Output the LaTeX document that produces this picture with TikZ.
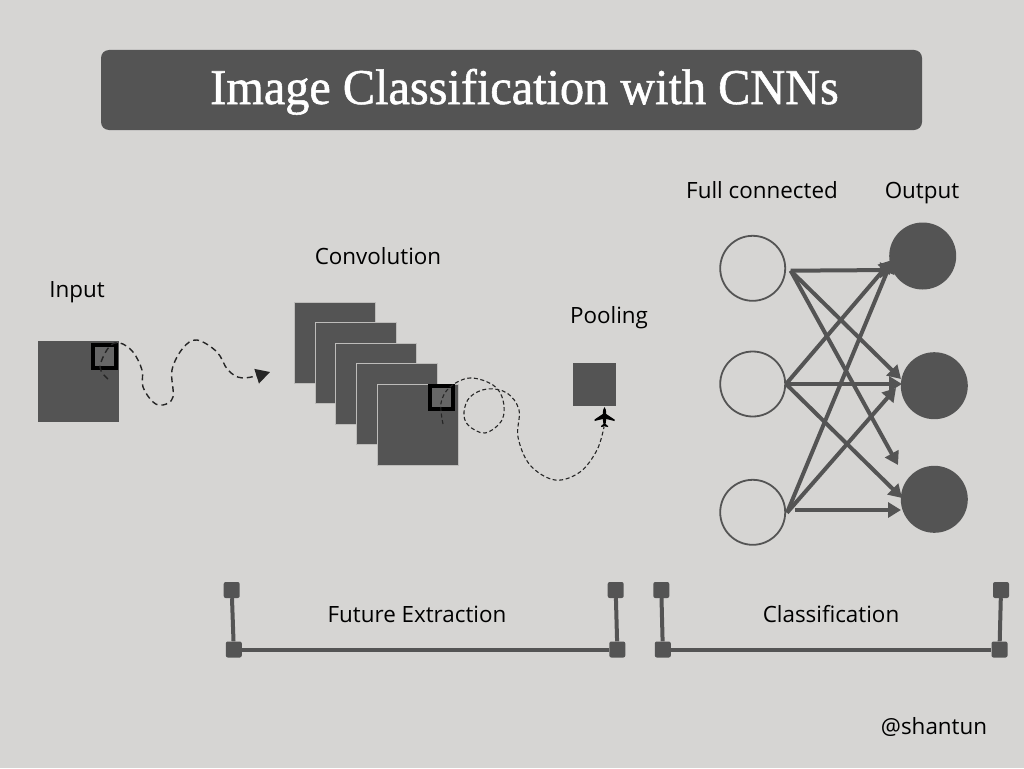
\documentclass[tikz,border=0pt]{standalone}
\usepackage{fontspec}
\setmainfont{Open Sans}
\newfontfamily\titlefont[FakeBold=1.1, FakeStretch=0.965]{Liberation Serif}
\usepackage{tikz}
\usetikzlibrary{arrows.meta,positioning,calc}
\definecolor{pagebg}{HTML}{D6D5D3}
\definecolor{cnndark}{HTML}{545454}
\definecolor{cnnmid}{HTML}{666666}
\definecolor{cnnedge}{HTML}{BDBCBA}

\begin{document}
\begin{tikzpicture}[x=1pt, y=-1pt, >={Triangle[length=13pt, width=15pt]},
  font=\fontsize{22.4}{26}\selectfont,
  sheet/.style={fill=cnndark, draw=cnnedge, line width=0.7pt, inner sep=0pt, minimum size=81pt},
  kernel/.style={fill=cnnmid, draw=black, line width=4pt, inner sep=0pt, minimum size=23pt},
  pin/.style={fill=cnndark, rounded corners=2pt, inner sep=0pt, minimum size=16pt},
  inunit/.style={circle, draw=cnndark, line width=1.8pt, inner sep=0pt, minimum size=65pt},
  outunit/.style={circle, fill=cnndark, inner sep=0pt, minimum size=67pt},
  link/.style={->, draw=cnndark, line width=4pt},
  bar/.style={draw=cnndark, line width=4pt},
  lbl/.style={anchor=base},
  trail/.style={draw=black!85, line width=1.4pt, dash pattern=on 6pt off 4pt}]
\useasboundingbox[fill=pagebg] (0,0) rectangle (1024,768);

\node[fill=cnndark, rounded corners=8pt, minimum width=821pt, minimum height=80pt, inner sep=0pt]
  (banner) at (511.5,90) {};
\node[lbl, text=white, font=\titlefont\fontsize{50}{60}\selectfont] (title) at (524.5,104)
  {Image Classification with CNNs};

% labels
\node[lbl] (lblin) at (77,297) {Input};
\node[lbl] (lblconv) at (378,264) {Convolution};
\node[lbl] (lblpool) at (609,323) {Pooling};
\node[lbl] (lblfull) at (762,198.5) {Full connected};
\node[lbl] (lblout) at (922,198.5) {Output};
\node[lbl] (lblfeat) at (417,622) {Future Extraction};
\node[lbl] (lblclass) at (831,622) {Classification};
\node[lbl] (lblhandle) at (934,734) {@shantun};

% input and its filter
\node[sheet, draw=none] (input) at (78.5,381.5) {};
\node[kernel] (kin) at (104.5,356) {};
\draw[trail, -{Triangle[length=14pt, width=15pt]}] plot[smooth, tension=0.6] coordinates
  {(108,379) (100,367) (109,347) (120,343) (133,352) (142,370) (143,387) (153,402)
   (163,405) (173,397) (172,370) (183,348) (197,340) (217,352) (228,370) (243,378) (270,372)};

% convolution stack
\foreach \i/\cx/\cy in {1/335/342.5, 2/355.5/362.5, 3/375.5/383.5, 4/396.5/403.5, 5/417.5/424.5}
  \node[sheet] (conv\i) at (\cx,\cy) {};
\node[kernel] (kconv) at (441.5,397) {};
\draw[trail, dash pattern=on 4pt off 2.6pt, line width=1.1pt] plot[smooth, tension=0.6] coordinates
  {(443,424) (441,403) (450,387) (470,378) (493,385) (503,400) (502,420) (485,433)
   (468,425) (464,412) (470,397) (487,389) (507,393) (519,410) (518,437) (530,465)
   (555,480) (580,472) (597,450) (604,427)};

% pooling
\node[sheet, draw=none, minimum size=43pt] (pool) at (594.5,384) {};
\fill[black] (604.5,407) .. controls (606,409) and (606.2,411) .. (606.2,414) -- (614.5,419.5)
  -- (614.5,421) -- (606.2,419) -- (605.6,424) -- (608,426) -- (608,427) -- (604.5,426.4)
  -- (601,427) -- (601,426) -- (603.4,424) -- (602.8,419) -- (594.5,421) -- (594.5,419.5)
  -- (602.8,414) .. controls (602.8,411) and (603,409) .. (604.5,407) -- cycle;

% network
\foreach \i/\cy in {1/268.3, 2/384, 3/512.3}
  \node[inunit] (in\i) at (752.7,\cy) {};
\node[outunit] (out1) at (922.7,256) {};
\node[outunit] (out2) at (934.3,385.7) {};
\node[outunit] (out3) at (934.3,499.3) {};
\coordinate (from1) at (790.7,270.7);
\coordinate (from2) at (786,384);
\coordinate (from3) at (787,512.7);
\coordinate (from3b) at (795,510);
\coordinate (stray) at (898,465);
\coordinate (hit1a) at (893,270);
\coordinate (hit1b) at (892,260);
\coordinate (hit2a) at (901,379);
\coordinate (hit2b) at (902,384);
\coordinate (hit2c) at (896,388);
\coordinate (hit3a) at (902,498);
\coordinate (hit3b) at (901,510);
\draw[link] (from1) -- (hit1a);
\draw[link] (from1) -- (hit2a);
\draw[link] (from1) -- (stray);
\draw[link] (from2) -- (hit1b);
\draw[link] (from2) -- (hit2b);
\draw[link] (from2) -- (hit3a);
\draw[link] (from3) -- (hit1b);
\draw[link] (from3) -- (hit2c);
\draw[link] (from3b) -- (hit3b);

% brackets
\foreach \n/\ax/\bx/\cx/\dx in {a/231.7/233.8/615.7/617.3, b/661.3/662.8/1001/999.5} {
  \node[pin] (\n tl) at (\ax,590) {};
  \node[pin] (\n bl) at (\bx,649.5) {};
  \node[pin] (\n tr) at (\cx,590) {};
  \node[pin] (\n br) at (\dx,649.5) {};
  \draw[bar] (\n tl) -- (\n bl);
  \draw[bar] (\n tr) -- (\n br);
  \draw[bar] (\n bl) -- (\n br);
}
\end{tikzpicture}
\end{document}
